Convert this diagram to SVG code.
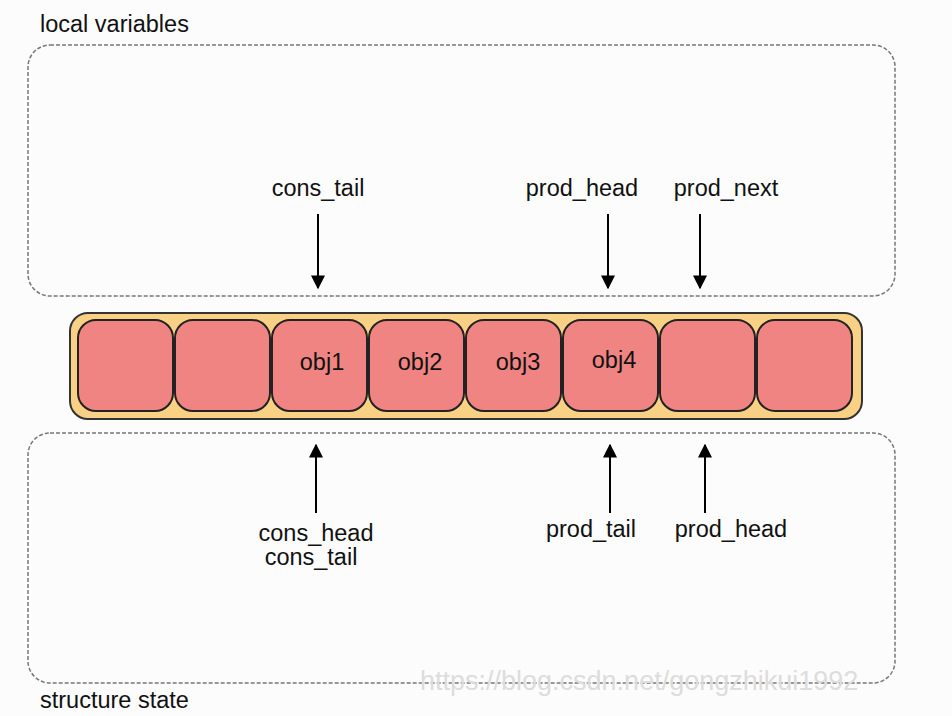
<svg xmlns="http://www.w3.org/2000/svg" width="952" height="716" viewBox="0 0 952 716">
<style>
text{font-family:"Liberation Sans",Arial,sans-serif;font-size:23.5px;fill:#111}
.lbl{text-anchor:middle}
.zone{fill:none;stroke:#777;stroke-width:1.5;stroke-dasharray:4,2}
.cell{fill:#f08482;stroke:#222;stroke-width:2}
.conn line{stroke:#000;stroke-width:2}
</style>
<defs>
<marker id="ah" viewBox="0 0 10 10" refX="9" refY="5" markerWidth="7" markerHeight="8" orient="auto" markerUnits="strokeWidth"><path d="M0,0L10,5L0,10z" fill="#000"/></marker>
</defs>
<rect width="952" height="716" fill="#fcfcfc"/>
<g id="local"><rect class="zone" x="28" y="45" width="867" height="251" rx="22"/><text x="40" y="32">local variables</text></g>
<g id="state"><rect class="zone" x="28" y="433" width="867" height="250" rx="22"/><text x="40" y="708">structure state</text></g>
<g id="ring"><rect x="70" y="313" width="792" height="106" rx="18" fill="#f8d184" stroke="#333" stroke-width="2"/></g>
<g id="c0"><rect class="cell" x="78" y="320" width="95" height="91" rx="18"/></g>
<g id="c1"><rect class="cell" x="175" y="320" width="95" height="91" rx="18"/></g>
<g id="c2"><rect class="cell" x="272" y="320" width="95" height="91" rx="18"/><text class="lbl" x="322" y="370">obj1</text></g>
<g id="c3"><rect class="cell" x="369" y="320" width="95" height="91" rx="18"/><text class="lbl" x="420" y="370">obj2</text></g>
<g id="c4"><rect class="cell" x="466" y="320" width="95" height="91" rx="18"/><text class="lbl" x="518" y="370">obj3</text></g>
<g id="c5"><rect class="cell" x="563" y="320" width="95" height="91" rx="18"/><text class="lbl" x="614" y="368">obj4</text></g>
<g id="c6"><rect class="cell" x="660" y="320" width="95" height="91" rx="18"/></g>
<g id="c7"><rect class="cell" x="757" y="320" width="95" height="91" rx="18"/></g>
<g id="labels">
<text class="lbl" x="318" y="196">cons_tail</text>
<text class="lbl" x="582" y="196">prod_head</text>
<text class="lbl" x="726" y="196">prod_next</text>
<text class="lbl" x="316" y="541">cons_head</text>
<text class="lbl" x="311" y="565">cons_tail</text>
<text class="lbl" x="591" y="537">prod_tail</text>
<text class="lbl" x="731" y="537">prod_head</text>
</g>
<g class="conn" id="connectors">
<line x1="318" y1="214" x2="318" y2="288" marker-end="url(#ah)"/>
<line x1="608" y1="214" x2="608" y2="288" marker-end="url(#ah)"/>
<line x1="700" y1="214" x2="700" y2="288" marker-end="url(#ah)"/>
<line x1="316" y1="513" x2="316" y2="445" marker-end="url(#ah)"/>
<line x1="610" y1="513" x2="610" y2="445" marker-end="url(#ah)"/>
<line x1="705" y1="513" x2="705" y2="445" marker-end="url(#ah)"/>
</g>
<text x="420" y="690" style="fill:#ddd;font-size:27px">https://blog.csdn.net/gongzhikui1992</text>
</svg>
